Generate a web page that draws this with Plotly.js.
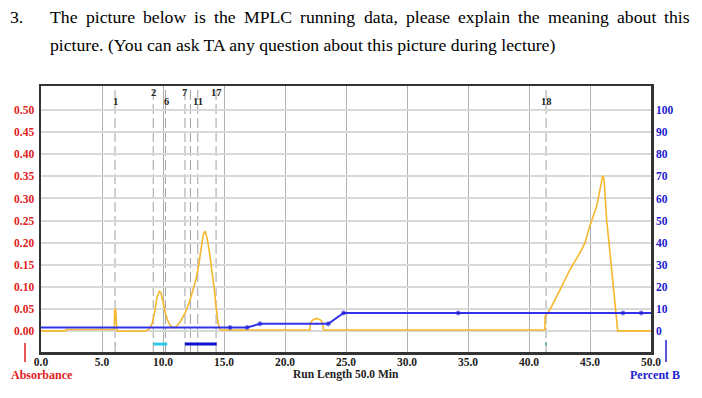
<!DOCTYPE html>
<html>
<head>
<meta charset="utf-8">
<script src="https://cdn.plot.ly/plotly-3.0.1.min.js"></script>
<style>
html,body{margin:0;padding:0;background:#fff;}
#chart{width:702px;height:398px;}
</style>
</head>
<body>
<div id="chart"></div>
<script>
// Absorbance trace (run time in min, absorbance)
const absX = [0, 2.0, 2.05, 6.0, 6.05, 6.12, 6.18, 6.25, 8.6, 8.9, 9.1, 9.3, 9.5, 9.7, 9.85, 10.0, 10.2, 10.4, 10.6, 10.8, 11.0,
  11.4, 11.8, 12.2, 12.5, 12.7, 12.9, 13.1, 13.3, 13.45, 13.6, 13.8, 14.0, 14.2, 14.35, 14.5, 14.65, 14.8,
  22.05, 22.07, 22.3, 22.6, 22.9, 23.1, 23.14, 41.3, 41.32, 41.72, 42.54, 43.36, 44.18, 44.6, 44.95, 45.28, 45.55, 45.82,
  46.04, 46.15, 46.37, 46.64, 46.91, 47.1, 47.27, 50];
const absY = [0.000, 0.000, 0.003, 0.003, 0.050, 0.048, 0.020, -0.001, 0.000, 0.005, 0.015, 0.040, 0.075, 0.090, 0.085, 0.065, 0.040, 0.022, 0.012, 0.008, 0.007,
  0.020, 0.040, 0.068, 0.095, 0.116, 0.145, 0.185, 0.218, 0.226, 0.212, 0.180, 0.140, 0.095, 0.055, 0.020, 0.004, 0.002,
  0.002, 0.018, 0.025, 0.028, 0.025, 0.017, 0.002, 0.002, 0.032, 0.048, 0.093, 0.139, 0.177, 0.200, 0.235, 0.260, 0.283, 0.320,
  0.352, 0.343, 0.250, 0.177, 0.100, 0.040, 0.000, 0.000];

// Percent B gradient (run time in min, % B)
const pctX = [0, 15.5, 16.9, 17.95, 23.55, 24.8, 34.2, 47.7, 49.2, 50];
const pctY = [1.5, 1.5, 1.5, 3.2, 3.2, 8.1, 8.1, 8.1, 8.1, 8.1];

// Fractions
const fracLabels = ['1', '2', '6', '7', '11', '17', '18'];
const fracLabelX = [6.1, 9.25, 10.3, 11.8, 12.85, 14.4, 41.4];
const fracLabelHigh = [false, true, false, true, false, true, false];
const fracLineX = [6.07, 9.2, 10.2, 11.8, 12.25, 12.85, 14.35, 41.4];

// Collected fraction bars below baseline
const collStart = [6.08, 9.2, 11.8, 41.35];
const collEnd = [6.12, 10.35, 14.4, 41.45];
const collColor = ['#e040e0', '#30c8e8', '#1010d0', '#20a060'];

// Axis ticks
const xTicks = [0, 5, 10, 15, 20, 25, 30, 35, 40, 45, 50];
const xTickText = ['0.0', '5.0', '10.0', '15.0', '20.0', '25.0', '30.0', '35.0', '40.0', '45.0', '50.0'];
const yTicks = [0, 0.05, 0.10, 0.15, 0.20, 0.25, 0.30, 0.35, 0.40, 0.45, 0.50];
const yTickText = ['0.00', '0.05', '0.10', '0.15', '0.20', '0.25', '0.30', '0.35', '0.40', '0.45', '0.50'];
const y2Ticks = [0, 10, 20, 30, 40, 50, 60, 70, 80, 90, 100];

// Question text
const questionNo = '3.';
const questionLine1 = 'The picture below is the MPLC running data, please explain the meaning about this';
const questionLine2 = 'picture. (You can ask TA any question about this picture during lecture)';

const serif = 'Liberation Serif';
const titleSize = 17.7;
const collY = -0.03;

const traces = [];
traces.push({
  x: pctX, y: pctY, yaxis: 'y2', type: 'scatter', mode: 'lines+markers',
  line: {color: 'rgb(50,50,235)', width: 2},
  marker: {color: 'rgb(30,30,200)', size: pctX.map((v, i) => (i === 0 || i === pctX.length - 1) ? 0 : 4)},
  hoverinfo: 'skip', showlegend: false
});
traces.push({
  x: absX, y: absY, type: 'scatter', mode: 'lines',
  line: {color: '#f5b72c', width: 1.6},
  hoverinfo: 'skip', showlegend: false
});
for (let i = 0; i < collStart.length; i++) {
  traces.push({
    x: [collStart[i], collEnd[i]], y: [collY, collY], type: 'scatter', mode: 'lines',
    line: {color: collColor[i], width: 3},
    hoverinfo: 'skip', showlegend: false
  });
}

const shapes = fracLineX.map(x => ({
  type: 'line', xref: 'x', yref: 'paper', x0: x, x1: x, y0: 0, y1: 1,
  line: {color: '#a0a0a0', width: 1, dash: '10px,4px'}, layer: 'below'
}));
shapes.push({type: 'line', xref: 'paper', yref: 'paper', x0: -0.0262, x1: -0.0262, y0: 0.034, y1: -0.038, line: {color: '#e02020', width: 1.5}});
shapes.push({type: 'line', xref: 'paper', yref: 'paper', x0: 1.0246, x1: 1.0246, y0: 0.045, y1: -0.038, line: {color: '#2020d0', width: 1.5}});

const annotations = [];
fracLabels.forEach((t, i) => {
  annotations.push({
    x: fracLabelX[i], xref: 'x', yref: 'paper', y: fracLabelHigh[i] ? 0.975 : 0.94,
    text: t, showarrow: false, xanchor: 'center', yanchor: 'middle',
    font: {family: serif, size: 10.5, color: '#222', weight: 'bold'}
  });
});
const px = v => (v - 41) / 610;
const py = v => (352 - v) / 266;
const tFont = {family: serif, size: titleSize, color: '#000'};
annotations.push({x: px(8), y: py(17), xref: 'paper', yref: 'paper', text: questionNo, showarrow: false, xanchor: 'left', yanchor: 'middle', font: tFont});

// justified first line (as in the source document)
(function () {
  const ctx = document.createElement('canvas').getContext('2d');
  ctx.font = titleSize + 'px "' + serif + '"';
  const words = questionLine1.split(' ');
  const widths = words.map(w => ctx.measureText(w).width);
  const total = widths.reduce((a, b) => a + b, 0);
  const left = 48, right = 688;
  const gap = (right - left - total) / (words.length - 1);
  let cx = left;
  words.forEach((w, i) => {
    annotations.push({x: px(cx), y: py(17), xref: 'paper', yref: 'paper', text: w, showarrow: false, xanchor: 'left', yanchor: 'middle', font: tFont});
    cx += widths[i] + gap;
  });
})();
annotations.push({x: px(48), y: py(45), xref: 'paper', yref: 'paper', text: questionLine2, showarrow: false, xanchor: 'left', yanchor: 'middle', font: tFont});
annotations.push({x: px(346), y: py(374), xref: 'paper', yref: 'paper', text: 'Run Length 50.0 Min', showarrow: false, xanchor: 'center', yanchor: 'middle', font: {family: serif, size: 11.5, color: '#222', weight: 'bold'}});
annotations.push({x: px(42), y: py(374.5), xref: 'paper', yref: 'paper', text: 'Absorbance', showarrow: false, xanchor: 'center', yanchor: 'middle', font: {family: serif, size: 12, color: '#e02020', weight: 'bold'}});
annotations.push({x: px(655), y: py(374.5), xref: 'paper', yref: 'paper', text: 'Percent B', showarrow: false, xanchor: 'center', yanchor: 'middle', font: {family: serif, size: 12, color: '#2020d0', weight: 'bold'}});

const layout = {
  width: 702, height: 398,
  margin: {l: 41, r: 51, t: 86, b: 46, pad: 0},
  paper_bgcolor: '#fff', plot_bgcolor: '#fff',
  showlegend: false,
  font: {family: serif},
  xaxis: {
    range: [0, 50], tickvals: xTicks, ticktext: xTickText, ticks: '',
    showgrid: true, gridcolor: '#b0b0b0', gridwidth: 1, zeroline: false,
    showline: true, mirror: true, linecolor: '#333', linewidth: 2.5,
    ticklabelstandoff: -2,
    tickfont: {family: serif, size: 11.5, color: '#222', weight: 'bold'}
  },
  yaxis: {
    range: [-0.048, 0.555], tickvals: yTicks, ticktext: yTickText, ticks: '',
    showgrid: true, gridcolor: '#d8d8d8', gridwidth: 2, zeroline: false,
    showline: true, mirror: true, linecolor: '#333', linewidth: 2.5,
    ticklabelstandoff: 2,
    tickfont: {family: serif, size: 11.5, color: '#e02020', weight: 'bold'}
  },
  yaxis2: {
    overlaying: 'y', side: 'right', range: [-9.6, 111], tickvals: y2Ticks, ticks: '',
    showgrid: false, zeroline: false, showline: false,
    ticklabelstandoff: 4,
    tickfont: {family: serif, size: 11.5, color: '#2020d0', weight: 'bold'}
  },
  shapes: shapes,
  annotations: annotations
};

Plotly.newPlot('chart', traces, layout, {staticPlot: true, displayModeBar: false});
</script>
</body>
</html>
